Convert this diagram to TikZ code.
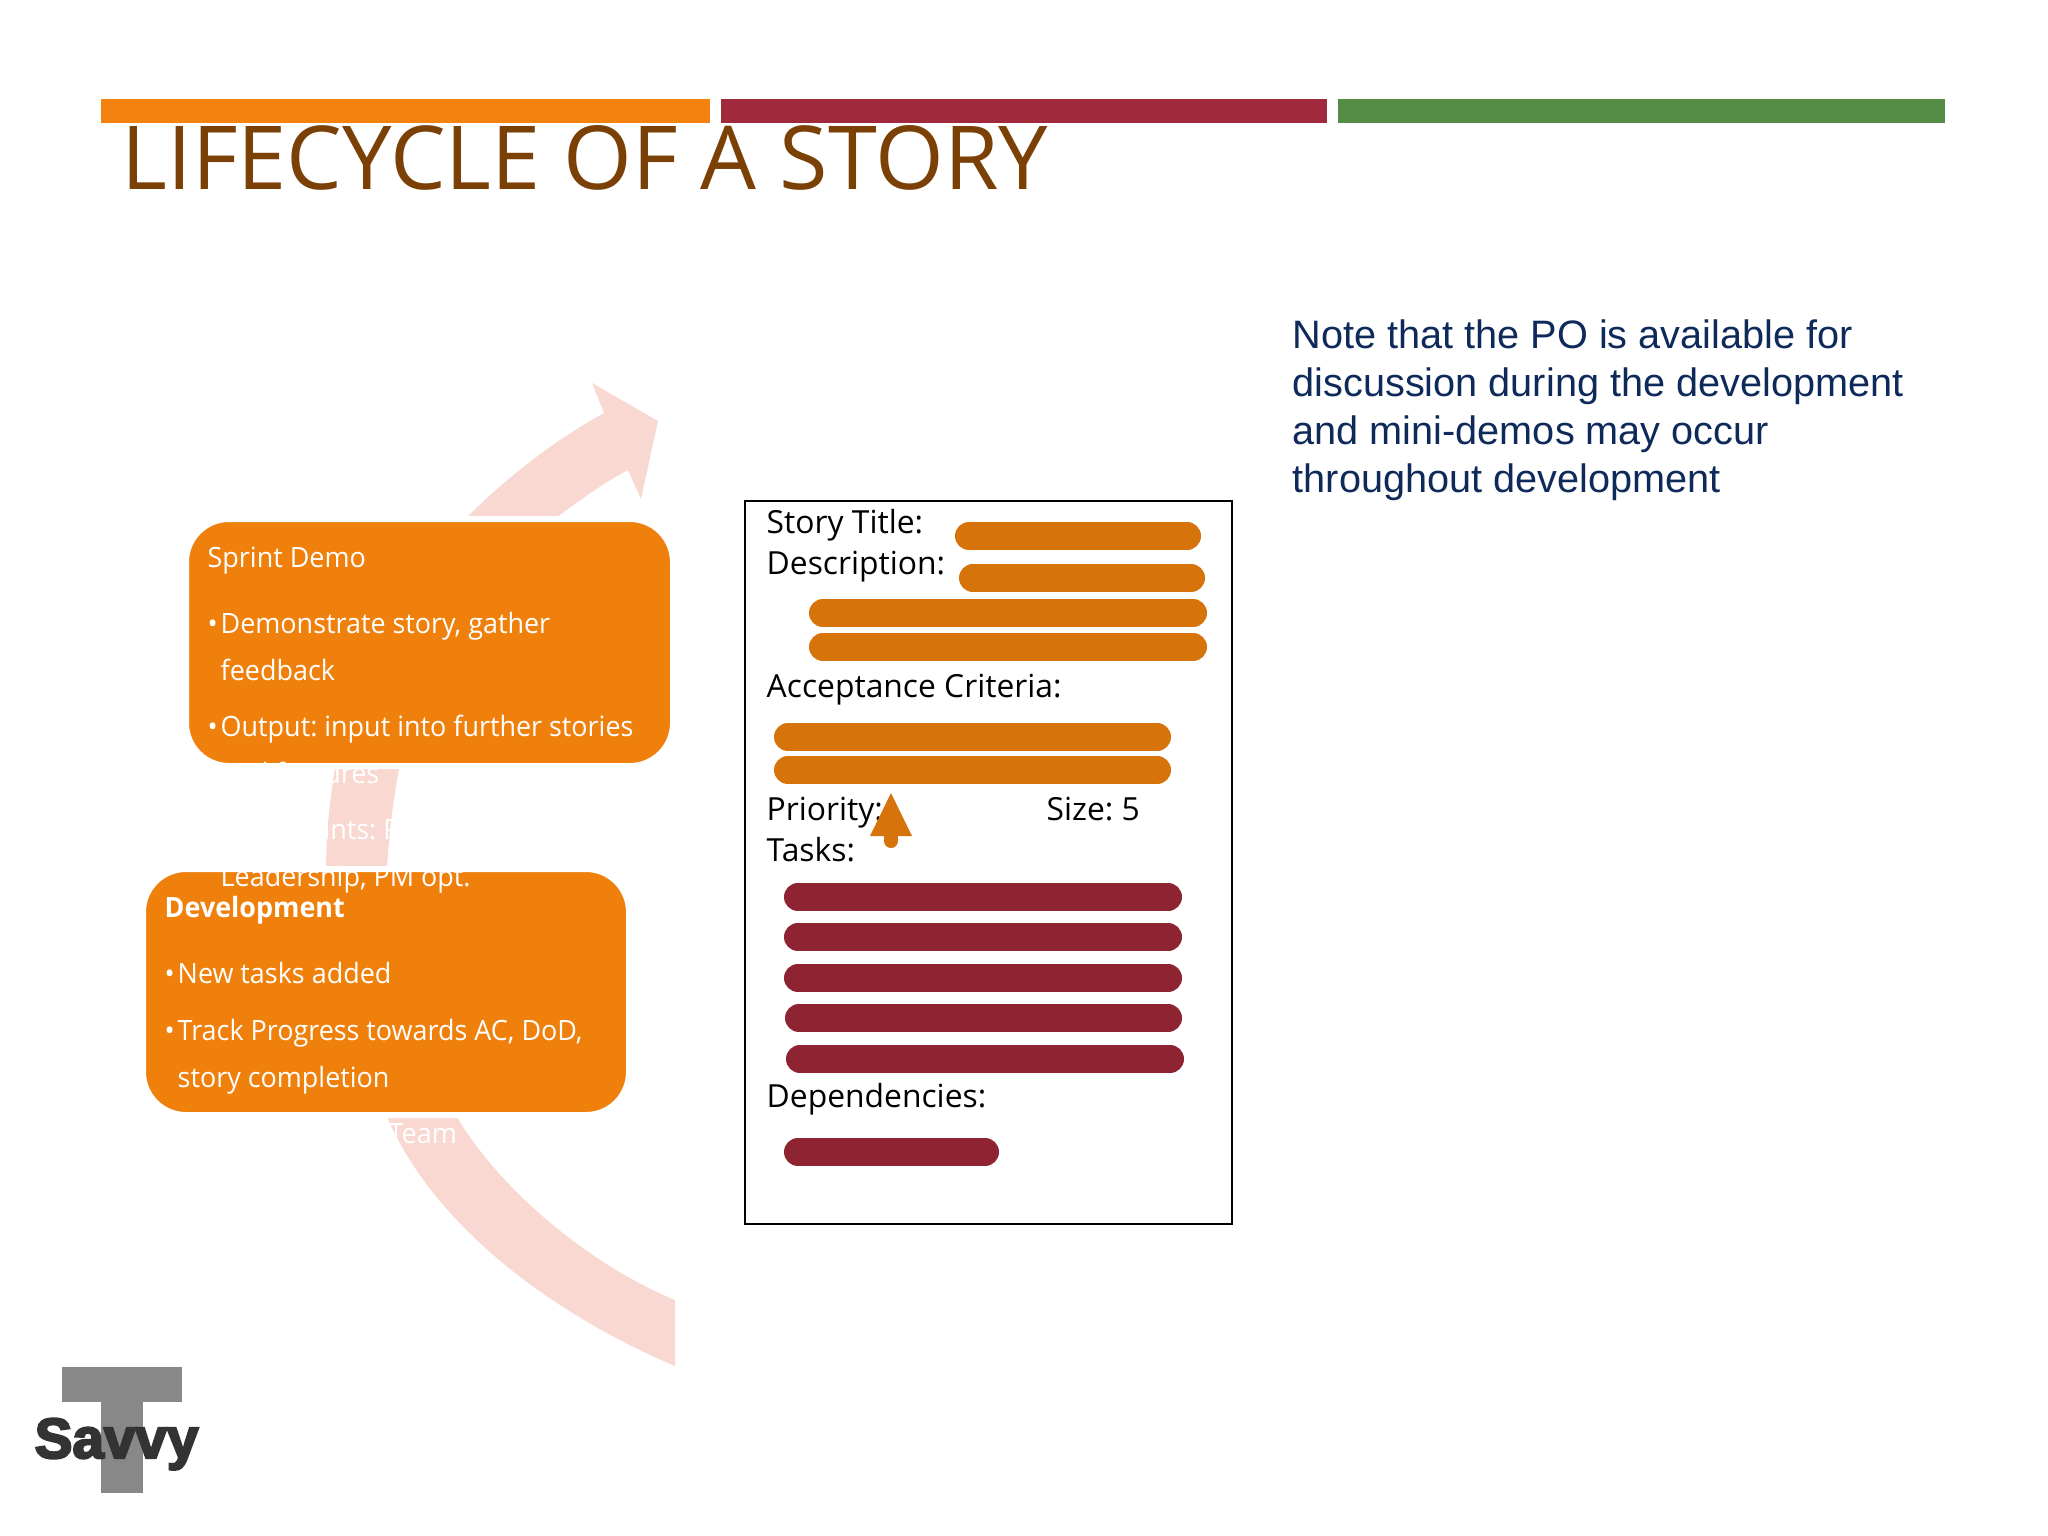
\documentclass[tikz,border=0pt]{standalone}
\usepackage{fontspec}
\setmainfont{Open Sans}
\newfontfamily\boxfont[FakeStretch=0.963]{Open Sans}
\newfontfamily\notefont{Liberation Sans}
\newfontfamily\logofont[FakeBold=4]{Liberation Sans Bold}
\AtBeginDocument{\frenchspacing}
\definecolor{barorange}{HTML}{F3820E}
\definecolor{barred}{HTML}{A0293C}
\definecolor{bargreen}{HTML}{548B45}
\definecolor{titlebrown}{HTML}{7A4006}
\definecolor{boxorange}{HTML}{F0800C}
\definecolor{pillorange}{HTML}{D6730A}
\definecolor{pillred}{HTML}{8E2331}
\definecolor{swoosh}{HTML}{F8D8D0}
\definecolor{notenavy}{HTML}{0E2A5A}
\definecolor{logogray}{HTML}{888888}
\definecolor{logodark}{HTML}{333333}
\newcommand{\blt}{\makebox[0.13cm][l]{\textbullet}}
\tikzset{
  phasebox/.style={fill=boxorange, draw=white, line width=0.06cm, rounded corners=0.43cm},
  boxtext/.style={anchor=base west, inner sep=0pt, text=white, font=\boxfont\fontsize{7.95}{10}\selectfont},
  cardtext/.style={anchor=base west, inner sep=0pt, text=black, font=\fontsize{9.05}{11}\selectfont},
  orangepill/.style={draw=pillorange, line width=0.28cm, line cap=round},
  redpill/.style={draw=pillred, line width=0.28cm, line cap=round}
}
\begin{document}
\begin{tikzpicture}[x=0.01cm, y=-0.01cm]
  \useasboundingbox (0,0) rectangle (2048,1536);
  % top bars
  \fill[barorange] (101,99) rectangle (710,123);
  \fill[barred] (721,99) rectangle (1327,123);
  \fill[bargreen] (1338,99) rectangle (1945,123);
  \node[anchor=base west, inner sep=0pt, text=titlebrown, font=\fontsize{25.1}{30}\selectfont] (title) at (121,189) {LIFECYCLE OF A STORY};
  % big arrow behind the boxes
  \fill[swoosh] (675,1366) .. controls (555,1315) and (435,1228) .. (387,1117)
    .. controls (345,1050) and (322,960) .. (326,869)
    .. controls (328,700) and (390,590) .. (468,516)
    .. controls (510,475) and (555,440) .. (604,413)
    -- (592,383) -- (658,421) -- (641,499) -- (628,470)
    .. controls (605,482) and (580,500) .. (557,517)
    .. controls (460,590) and (398,680) .. (387,869)
    .. controls (385,960) and (420,1050) .. (457,1117)
    .. controls (500,1190) and (590,1265) .. (675,1300) -- cycle;
  % sprint demo
  \path[phasebox] (186,519) rectangle (673,766);
  \node[boxtext] (demohead) at (207,567) {Sprint Demo};
  \node[boxtext] (demoa) at (207,633) {\blt Demonstrate story, gather};
  \node[boxtext] (demob) at (220,680) {feedback};
  \node[boxtext] (democ) at (207,736) {\blt Output: input into further stories};
  \node[boxtext] (demod) at (220,783) {and features};
  \node[boxtext] (demoe) at (207,839) {\blt Participants: PO,};
  % development
  \path[phasebox] (143,869) rectangle (629,1115);
  \node[boxtext] (demof) at (220,886) {Leadership, PM opt.};
  \node[boxtext, font=\boxfont\fontsize{7.95}{10}\selectfont\bfseries] (devhead) at (164,917) {Development};
  \node[boxtext] (deva) at (164,983) {\blt New tasks added};
  \node[boxtext] (devb) at (164,1040) {\blt Track Progress towards AC, DoD,};
  \node[boxtext] (devc) at (177,1087) {story completion};
  \node[boxtext] (devd) at (388,1143) {Team};
  % story card
  \draw[black, line width=0.02cm] (745,501) rectangle (1232,1224);
  \node[cardtext] (cardtitle) at (766,533) {Story Title:};
  \node[cardtext] (carddesc) at (766,574) {Description:};
  \node[cardtext] (cardac) at (766,697) {Acceptance Criteria:};
  \node[cardtext] (cardprio) at (766,820) {Priority:};
  \node[cardtext] (cardsize) at (1046,820) {Size: 5};
  \node[cardtext] (cardtasks) at (766,861) {Tasks:};
  \node[cardtext] (carddeps) at (766,1107) {Dependencies:};
  \draw[orangepill] (969,536)--(1187,536);
  \draw[orangepill] (973,578)--(1191,578);
  \draw[orangepill] (823,613)--(1193,613);
  \draw[orangepill] (823,647)--(1193,647);
  \draw[orangepill] (788,737)--(1157,737);
  \draw[orangepill] (788,770)--(1157,770);
  \fill[pillorange] (891,793)--(912,836)--(870,836)--cycle; % priority arrow
  \draw[pillorange, line width=0.14cm, line cap=round] (891,830)--(891,841);
  \draw[redpill] (798,897)--(1168,897);
  \draw[redpill] (798,937)--(1168,937);
  \draw[redpill] (798,978)--(1168,978);
  \draw[redpill] (799,1018)--(1168,1018);
  \draw[redpill] (800,1059)--(1170,1059);
  \draw[redpill] (798,1152)--(985,1152);
  % side note
  \node[anchor=north west, inner sep=0pt, align=left, text=notenavy, font=\notefont\fontsize{11.28}{13.66}\selectfont] (note) at (1292,319) {Note that the PO is available for\\discussion during the development\\and mini-demos may occur\\throughout development};
  % logo
  \fill[logogray] (62,1367) rectangle (182,1402);
  \fill[logogray] (101,1402) rectangle (143,1493);
  \node[anchor=base west, inner sep=0pt, text=logodark, font=\logofont\fontsize{16.1}{18}\selectfont] (logo) at (34,1458) {Savvy};
\end{tikzpicture}
\end{document}
